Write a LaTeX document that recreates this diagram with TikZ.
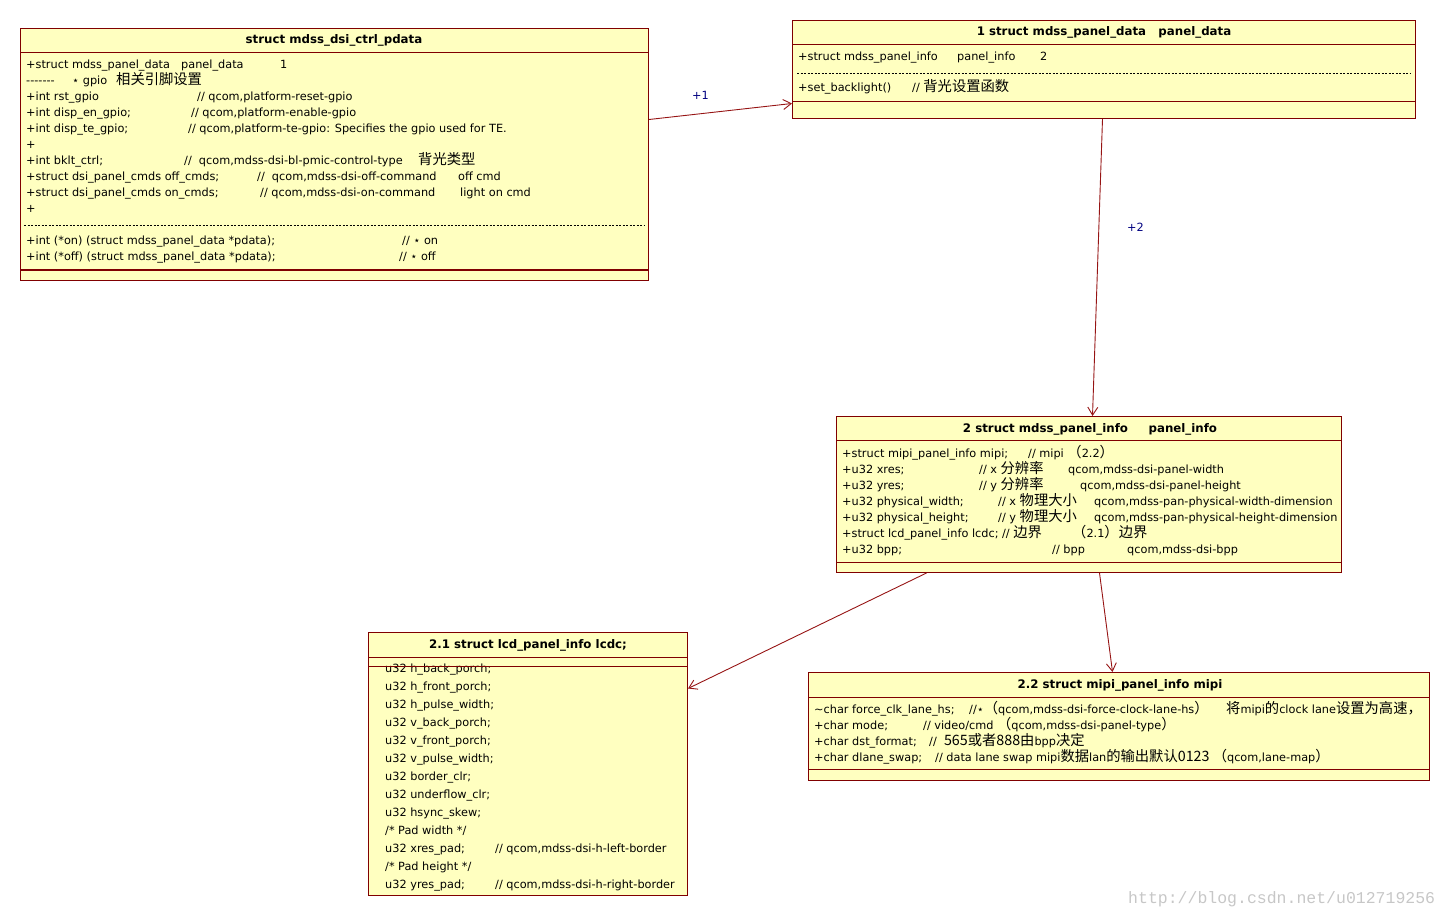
\documentclass[tikz,border=0pt]{standalone}
\usepackage{fontspec}
\setmainfont{DejaVu Sans}
\newfontfamily\cjkf{Noto Sans CJK SC}
\newfontfamily\wmfont{Liberation Mono}
\usetikzlibrary{arrows.meta}
\definecolor{boxfill}{RGB}{255,255,192}
\definecolor{boxline}{RGB}{128,0,0}
\definecolor{connc}{RGB}{150,20,20}
\definecolor{lblc}{RGB}{0,0,128}
\newcommand\zh[1]{{\cjkf\fontsize{14.3}{16}\selectfont #1}}
\newcommand\T[4]{\node[txt] (#1) at (#2,#3) {#4};}
\begin{document}
\begin{tikzpicture}[x=1pt,y=-1pt,
  every node/.style={font=\fontsize{11.3}{14}\selectfont},
  box/.style={draw=boxline, fill=boxfill, line width=1pt, inner sep=0pt, anchor=north west},
  sep/.style={draw=boxline, line width=1pt},
  dsep/.style={draw=black, line width=0.6pt, dash pattern=on 2pt off 1.5pt},
  txt/.style={anchor=base west, inner sep=0pt, text=black},
  ttl/.style={anchor=base, inner sep=0pt, text=black, font=\fontsize{11.8}{14}\selectfont\bfseries},
  conn/.style={draw=connc, line width=0.9pt, -{Straight Barb[length=8pt,width=10pt]}},
  lbl/.style={anchor=base west, inner sep=0pt, text=lblc}]
\useasboundingbox (0,0) rectangle (1450,917);

% ---------- box 1 ----------
\node[box, minimum width=628pt, minimum height=252pt] (b1) at (20,28) {};
\draw[sep] (b1.west |- 0,53) -- (b1.east |- 0,53);
\draw[dsep] (24,225) -- (644,225);
\draw[sep] (b1.west |- 0,270) -- (b1.east |- 0,270);
\node[ttl] (b1t) at (334,44) {struct mdss\_dsi\_ctrl\_pdata};
\T{a1}{26}{69}{+struct mdss\_panel\_data}
\T{a1b}{181}{69}{panel\_data}
\T{a1c}{280}{69}{1}
\T{a2}{26}{85}{-{}-{}-{}-{}-{}-{}-}
\T{a2b}{72}{85}{⋆ gpio}
\T{a2c}{116}{85}{\zh{相关引脚设置}}
\T{a3}{26}{101}{+int rst\_gpio}
\T{a3b}{197}{101}{// qcom,platform-reset-gpio}
\T{a4}{26}{117}{+int disp\_en\_gpio;}
\T{a4b}{191}{117}{// qcom,platform-enable-gpio}
\T{a5}{26}{133}{+int disp\_te\_gpio;}
\T{a5b}{188}{133}{// qcom,platform-te-gpio: Specifies the gpio used for TE.}
\T{a6}{26}{149}{+}
\T{a7}{26}{165}{+int bklt\_ctrl;}
\T{a7b}{184}{165}{//\ \ qcom,mdss-dsi-bl-pmic-control-type}
\T{a7c}{418}{165}{\zh{背光类型}}
\T{a8}{26}{181}{+struct dsi\_panel\_cmds off\_cmds;}
\T{a8b}{257}{181}{//\ \ qcom,mdss-dsi-off-command}
\T{a8c}{458}{181}{off cmd}
\T{a9}{26}{197}{+struct dsi\_panel\_cmds on\_cmds;}
\T{a9b}{260}{197}{// qcom,mdss-dsi-on-command}
\T{a9c}{460}{197}{light on cmd}
\T{a10}{26}{213}{+}
\T{a11}{26}{245}{+int (*on) (struct mdss\_panel\_data *pdata);}
\T{a11b}{402}{245}{// ⋆ on}
\T{a12}{26}{261}{+int (*off) (struct mdss\_panel\_data *pdata);}
\T{a12b}{399}{261}{// ⋆ off}

% ---------- box 2 ----------
\node[box, minimum width=623pt, minimum height=98pt] (b2) at (792,20) {};
\draw[sep] (b2.west |- 0,45) -- (b2.east |- 0,45);
\draw[dsep] (797,73) -- (1411,73);
\draw[sep] (b2.west |- 0,102) -- (b2.east |- 0,102);
\node[ttl] (b2t) at (1104,36) {1 struct mdss\_panel\_data\ \ \ panel\_data};
\T{c1}{798}{61}{+struct mdss\_panel\_info}
\T{c1b}{957}{61}{panel\_info}
\T{c1c}{1040}{61}{2}
\T{c2}{798}{92}{+set\_backlight()}
\T{c2b}{912}{92}{// \zh{背光设置函数}}

% ---------- box 3 ----------
\node[box, minimum width=505pt, minimum height=156pt] (b3) at (836,416) {};
\draw[sep] (b3.west |- 0,440) -- (b3.east |- 0,440);
\draw[sep] (b3.west |- 0,562) -- (b3.east |- 0,562);
\node[ttl] (b3t) at (1090,432) {2 struct mdss\_panel\_info\ \ \ \ \ panel\_info};
\T{d1}{842}{457}{+struct mipi\_panel\_info mipi;}
\T{d1b}{1028}{457}{// mipi \zh{（}2.2\zh{）}}
\T{d2}{842}{473}{+u32 xres;}
\T{d2b}{979}{473}{// x \zh{分辨率}}
\T{d2c}{1068}{473}{qcom,mdss-dsi-panel-width}
\T{d3}{842}{489}{+u32 yres;}
\T{d3b}{979}{489}{// y \zh{分辨率}}
\T{d3c}{1080}{489}{qcom,mdss-dsi-panel-height}
\T{d4}{842}{505}{+u32 physical\_width;}
\T{d4b}{998}{505}{// x \zh{物理大小}}
\T{d4c}{1094}{505}{qcom,mdss-pan-physical-width-dimension}
\T{d5}{842}{521}{+u32 physical\_height;}
\T{d5b}{998}{521}{// y \zh{物理大小}}
\T{d5c}{1094}{521}{qcom,mdss-pan-physical-height-dimension}
\T{d6}{842}{537}{+struct lcd\_panel\_info lcdc; // \zh{边界}}
\T{d6b}{1072}{537}{\zh{（}2.1\zh{）边界}}
\T{d7}{842}{553}{+u32 bpp;}
\T{d7b}{1052}{553}{// bpp}
\T{d7c}{1127}{553}{qcom,mdss-dsi-bpp}

% ---------- box 4 ----------
\node[box, minimum width=319pt, minimum height=263pt] (b4) at (368,632) {};
\draw[sep] (b4.west |- 0,657) -- (b4.east |- 0,657);
\node[ttl] (b4t) at (528,648) {2.1 struct lcd\_panel\_info lcdc;};
\T{e1}{385}{672}{u32 h\_back\_porch;}
\draw[sep] (b4.west |- 0,666) -- (b4.east |- 0,666);
\T{e2}{385}{690}{u32 h\_front\_porch;}
\T{e3}{385}{708}{u32 h\_pulse\_width;}
\T{e4}{385}{726}{u32 v\_back\_porch;}
\T{e5}{385}{744}{u32 v\_front\_porch;}
\T{e6}{385}{762}{u32 v\_pulse\_width;}
\T{e7}{385}{780}{u32 border\_clr;}
\T{e8}{385}{798}{u32 underflow\_clr;}
\T{e9}{385}{816}{u32 hsync\_skew;}
\T{e10}{385}{834}{/* Pad width */}
\T{e11}{385}{852}{u32 xres\_pad;}
\T{e11b}{495}{852}{// qcom,mdss-dsi-h-left-border}
\T{e12}{385}{870}{/* Pad height */}
\T{e13}{385}{888}{u32 yres\_pad;}
\T{e13b}{495}{888}{// qcom,mdss-dsi-h-right-border}

% ---------- box 5 ----------
\node[box, minimum width=621pt, minimum height=108pt] (b5) at (808,672) {};
\draw[sep] (b5.west |- 0,697) -- (b5.east |- 0,697);
\draw[sep] (b5.west |- 0,769) -- (b5.east |- 0,769);
\node[ttl] (b5t) at (1120,688) {2.2 struct mipi\_panel\_info mipi};
\T{f1}{814}{713}{\textasciitilde char force\_clk\_lane\_hs;}
\T{f1b}{969}{713}{//⋆\zh{（}qcom,mdss-dsi-force-clock-lane-hs\zh{）}}
\T{f1c}{1226}{713}{\zh{将}mipi\zh{的}clock lane\zh{设置为高速，}}
\T{f2}{814}{729}{+char mode;}
\T{f2b}{923}{729}{// video/cmd \zh{（}qcom,mdss-dsi-panel-type\zh{）}}
\T{f3}{814}{745}{+char dst\_format;}
\T{f3b}{929}{745}{//\ \ \zh{565或者888由}bpp\zh{决定}}
\T{f4}{814}{761}{+char dlane\_swap;}
\T{f4b}{935}{761}{// data lane swap mipi\zh{数据}lan\zh{的输出默认0123 （}qcom,lane-map\zh{）}}

% ---------- connectors ----------
\draw[conn] ([yshift=35pt]b1.east) -- ([yshift=-34pt]b2.west);
\node[lbl] (l1) at (692,100) {+1};
\draw[conn] ([xshift=-1.5pt]b2.south) -- ([xshift=3.5pt]b3.north);
\node[lbl] (l2) at (1127,232) {+2};
\draw[conn] ([xshift=-162.5pt]b3.south) -- ([yshift=75.5pt]b4.east);
\draw[conn] ([xshift=10.5pt]b3.south) -- ([xshift=-6.5pt]b5.north);

% ---------- watermark ----------
\node[anchor=base west, inner sep=0pt, text=black!22, font=\wmfont\fontsize{16.5}{18}\selectfont] (wm) at (1128,903) {http://blog.csdn.net/u012719256};
\end{tikzpicture}
\end{document}
